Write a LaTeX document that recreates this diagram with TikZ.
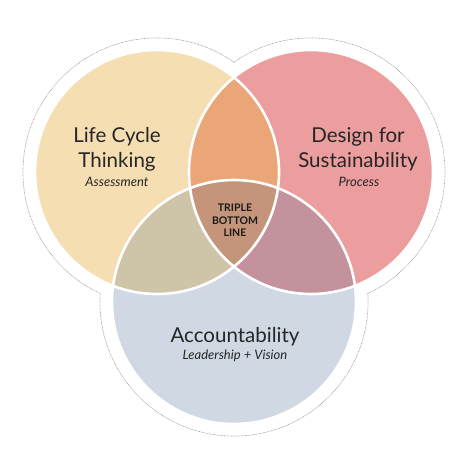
\documentclass[tikz,border=0pt]{standalone}
\usepackage{fontspec}
\setmainfont{Lato}
\begin{document}
\begin{tikzpicture}[x=1pt,y=-1pt,
  outline/.style={draw=gray!80, line width=0.7pt, dash pattern=on 0.7pt off 0.7pt},
  sep/.style={draw=white, line width=2.6pt},
  big/.style={inner sep=0pt, anchor=base, text=black!85, font=\fontsize{20.5}{24}\selectfont},
  small/.style={inner sep=0pt, anchor=base, text=black!85, font=\fontsize{13}{15}\selectfont\itshape},
  tbl/.style={inner sep=0pt, anchor=base, text=black!90, font=\fontsize{10.5}{12}\selectfont\bfseries}]
\definecolor{cyel}{RGB}{245,222,178}
\definecolor{cpink}{RGB}{236,157,158}
\definecolor{cblue}{RGB}{207,216,227}
\definecolor{corange}{RGB}{235,166,120}
\definecolor{colive}{RGB}{206,196,168}
\definecolor{cmauve}{RGB}{196,146,156}
\definecolor{ccenter}{RGB}{196,149,122}
\useasboundingbox (0,0) rectangle (474,474);
\fill[white] (0,0) rectangle (474,474);
\coordinate (L) at (157,172);
\coordinate (R) at (311,172);
\coordinate (B) at (234,302);
% outer dotted outline
\foreach \c in {L,R,B} \draw[outline] (\c) circle (134pt);
\foreach \c in {L,R,B} \fill[white] (\c) circle (133.5pt);
% base circles
\fill[cyel] (L) circle (122pt);
\fill[cpink] (R) circle (122pt);
\fill[cblue] (B) circle (122pt);
% pairwise intersections
\begin{scope}
  \clip (L) circle (122pt);
  \fill[corange] (R) circle (122pt);
  \fill[colive] (B) circle (122pt);
\end{scope}
\begin{scope}
  \clip (R) circle (122pt);
  \fill[cmauve] (B) circle (122pt);
\end{scope}
\begin{scope}
  \clip (L) circle (122pt);
  \clip (R) circle (122pt);
  \fill[ccenter] (B) circle (122pt);
\end{scope}
% white separators
\foreach \c in {L,R,B} \draw[sep] (\c) circle (122pt);
% texts
\node[big] (lc1) at (117,142) {Life Cycle};
\node[big] (lc2) at (117,167) {Thinking};
\node[small] (lc3) at (117,186) {Assessment};
\node[big] (ds1) at (358,142) {Design for};
\node[big] (ds2) at (358,167) {Sustainability};
\node[small] (ds3) at (359,186) {Process};
\node[big] (ac1) at (235,342) {Accountability};
\node[small] (ac2) at (235,359) {Leadership + Vision};
\node[tbl] (t1) at (235,211) {TRIPLE};
\node[tbl] (t2) at (235,224) {BOTTOM};
\node[tbl] (t3) at (235,236) {LINE};
\end{tikzpicture}
\end{document}
